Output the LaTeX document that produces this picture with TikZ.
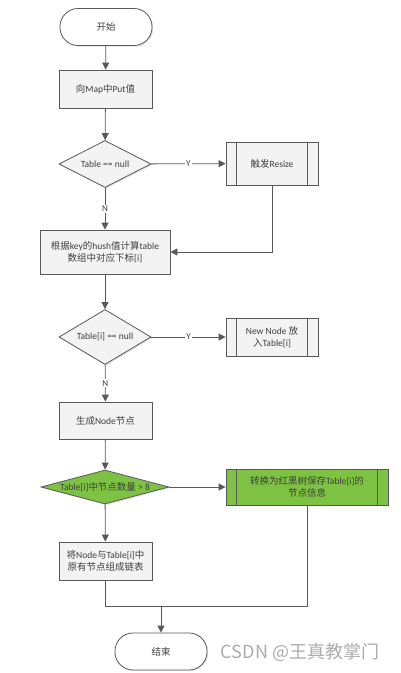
\documentclass[tikz,border=0pt]{standalone}
\usepackage{fontspec}
\setmainfont{Carlito}
\newfontfamily\zh{Noto Sans CJK SC}
\usepackage{tikz}
\usetikzlibrary{shapes.geometric,arrows.meta,shadows}

\definecolor{linegray}{HTML}{595959}
\definecolor{textgray}{HTML}{3F3F3F}
\definecolor{boxfill}{HTML}{F3F3F3}
\definecolor{leafgreen}{HTML}{7DC242}

\tikzset{
  base/.style={draw=linegray, line width=0.8pt, text=textgray, align=center,
    inner sep=1pt, font=\fontsize{9.5}{12.5}\selectfont,
    drop shadow={shadow xshift=1.2pt, shadow yshift=-1.2pt, fill=gray!35, opacity=0.6}},
  terminal/.style={base, rectangle, rounded corners=18pt, fill=white,
    minimum width=92pt, minimum height=37pt},
  process/.style={base, rectangle, fill=boxfill, minimum width=93pt, minimum height=38pt},
  predef/.style={process, minimum width=92pt},
  decision/.style={base, diamond, fill=boxfill, inner sep=0pt,
    minimum width=92pt, minimum height=47pt},
  asks/.style={text=textgray, font=\fontsize{9.5}{12.5}\selectfont},
  arrow/.style={draw=linegray, line width=0.8pt, -{Triangle[length=7pt,width=7pt]}},
  link/.style={draw=linegray, line width=0.8pt},
  yn/.style={fill=white, inner sep=1pt, text=textgray, font=\fontsize{9}{10}\selectfont}
}

\begin{document}
\begin{tikzpicture}[x=1pt, y=-1pt]
\useasboundingbox (0,0) rectangle (401,673);

% main column
\node[terminal] (start) at (106,27) {\zh 开始};
\node[process] (put) at (105.5,89) {{\zh 向}Map{\zh 中}Put{\zh 值}};
\node[decision, label={[asks]center:Table == null}] (isnull) at (105,164) {};
\node[predef, minimum height=43pt] (resize) at (272,163.5) {{\zh 触发}Resize};
\node[process, minimum width=130pt, minimum height=44pt] (index) at (105,252)
  {{\zh 根据}key{\zh 的}hush{\zh 值计算}table\\{\zh 数组中对应下标}[i]};
\node[decision, minimum height=55pt, label={[asks]center:Table[i] == null}] (slotnull) at (105,337) {};
\node[predef] (newnode) at (272,337) {New Node {\zh 放}\\{\zh 入}Table[i]};
\node[process, minimum height=37pt] (gen) at (105.5,420.5) {{\zh 生成}Node{\zh 节点}};
\node[decision, fill=leafgreen, minimum width=128pt, minimum height=34pt,
  label={[asks]center:Table[i]{\zh 中节点数量} > 8}] (count) at (105,487) {};
\node[predef, fill=leafgreen, minimum width=162pt, minimum height=36pt] (tree) at (307,487)
  {{\zh 转换为红黑树保存}Table[i]{\zh 的}\\{\zh 节点信息}};
\node[process] (chain) at (105.5,561) {{\zh 将}Node{\zh 与}Table[i]{\zh 中}\\{\zh 原有节点组成链表}};
\node[terminal] (stop) at (161,651.5) {\zh 结束};
\coordinate (merge) at (161,606);

% side bars of the predefined boxes
\foreach \b in {resize,newnode,tree} {
  \draw[link] ([xshift=11pt]\b.north west) -- ([xshift=11pt]\b.south west);
  \draw[link] ([xshift=-11pt]\b.north east) -- ([xshift=-11pt]\b.south east);
}

% connectors
\draw[arrow] (start) -- (put);
\draw[arrow] (put) -- (isnull);
\draw[arrow] (isnull) -- node[yn] {Y} (resize);
\draw[arrow] (isnull) -- node[yn] {N} (index);
\draw[arrow] (resize.south) |- (index.east);
\draw[arrow] (index) -- (slotnull);
\draw[arrow] (slotnull) -- node[yn] {Y} (newnode);
\draw[arrow] (slotnull) -- node[yn] {N} (gen);
\draw[arrow] (gen) -- (count);
\draw[arrow] (count) -- (tree);
\draw[arrow] (count) -- (chain);
\draw[link] (chain.south) |- (merge);
\draw[link] (tree.south) |- (merge);
\draw[arrow] (merge) -- (stop);

% watermark
\node[text=gray!65, font=\zh\fontsize{18}{20}\selectfont] (mark) at (300,652) {CSDN @王真教掌门};
\end{tikzpicture}
\end{document}
